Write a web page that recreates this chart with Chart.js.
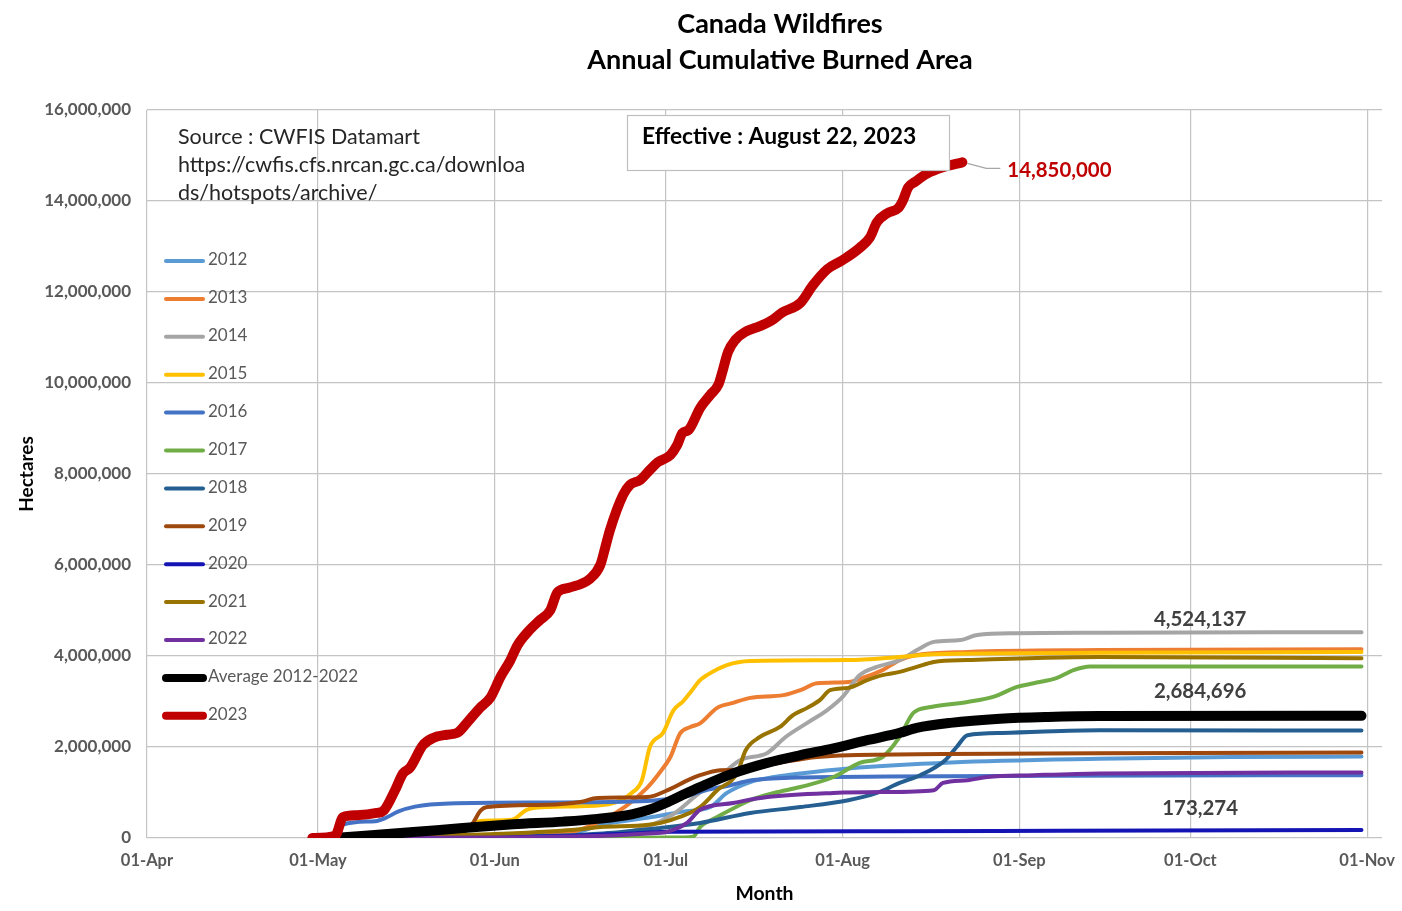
<!DOCTYPE html>
<html>
<head>
<meta charset="utf-8">
<title>Canada Wildfires</title>
<script src="https://cdn.jsdelivr.net/npm/chart.js@4.4.0/dist/chart.umd.min.js"></script>
<style>
  html, body { margin: 0; padding: 0; background: #fff; }
  canvas { display: block; }
</style>
</head>
<body>
<canvas id="fireChart" width="1402" height="911"></canvas>
<script>
// x values are days counted from 01-Apr, y values are millions of hectares
const monthStarts = [0, 30, 61, 91, 122, 153, 183, 214];
const monthLabels = ['01-Apr', '01-May', '01-Jun', '01-Jul', '01-Aug', '01-Sep', '01-Oct', '01-Nov'];

const titleLines = ['Canada Wildfires', 'Annual Cumulative Burned Area'];
const sourceLines = ['Source : CWFIS Datamart', 'https://cwfis.cfs.nrcan.gc.ca/downloa', 'ds/hotspots/archive/'];
const effectiveText = 'Effective : August 22, 2023';

const seriesNames = ['2012', '2013', '2014', '2015', '2016', '2017', '2018', '2019', '2020', '2021', '2022', 'Average 2012-2022', '2023'];
const seriesColors = ['#5b9bd5', '#ed7d31', '#a5a5a5', '#ffc000', '#4472c4', '#70ad47', '#255e91', '#9e480e', '#1414b4', '#997300', '#7030a0', '#000000', '#c00000'];

const days2012 = [30, 45, 60, 75, 80, 88, 94, 98.8, 101.7, 105.8, 110, 114.6, 123, 141, 167, 190, 213];
const ha2012 = [0, 0.01, 0.04, 0.12, 0.3, 0.45, 0.58, 0.68, 0.99, 1.23, 1.34, 1.42, 1.53, 1.66, 1.74, 1.78, 1.79];

const days2013 = [30, 60, 75, 80, 84, 87.7, 90, 91.8, 93.5, 95.3, 97, 100, 102.8, 105.8, 111.6, 114.6, 117.5, 123, 126, 129, 132, 135, 144, 167, 213];
const ha2013 = [0, 0.02, 0.15, 0.4, 0.7, 1.1, 1.45, 1.78, 2.3, 2.44, 2.52, 2.86, 2.97, 3.08, 3.14, 3.25, 3.4, 3.43, 3.54, 3.69, 3.91, 4.02, 4.09, 4.13, 4.15];

const days2014 = [30, 70, 85, 92, 96, 100, 104, 108.8, 112, 115.8, 119.3, 122, 125, 128, 132, 135.6, 138, 142.6, 145.6, 152.6, 167, 213];
const ha2014 = [0, 0.01, 0.15, 0.5, 0.9, 1.3, 1.71, 1.87, 2.22, 2.53, 2.81, 3.1, 3.58, 3.76, 3.91, 4.17, 4.31, 4.35, 4.46, 4.5, 4.51, 4.524137];

const days2015 = [30, 50, 55, 57, 59, 64, 66.6, 70, 76, 81.8, 85, 86.8, 88.2, 90.5, 92.3, 94, 95.3, 97, 98.2, 101.7, 105.8, 123, 132, 138, 167, 213];
const ha2015 = [0, 0.01, 0.1, 0.3, 0.38, 0.4, 0.62, 0.68, 0.7, 0.77, 0.99, 1.27, 2.0, 2.31, 2.8, 3.0, 3.2, 3.47, 3.58, 3.8, 3.89, 3.91, 3.98, 4.04, 4.07, 4.09];

const days2016 = [33, 34.5, 40, 42, 44, 47, 53, 70, 85, 94, 98, 102, 106, 114, 130, 160, 213];
const ha2016 = [0, 0.3, 0.37, 0.45, 0.58, 0.69, 0.76, 0.78, 0.8, 0.9, 1.05, 1.15, 1.27, 1.33, 1.35, 1.37, 1.38];

const days2017 = [30, 80, 92, 95.8, 97, 100, 105.8, 110, 114.6, 120.4, 125, 129, 132, 134.4, 137.5, 143.9, 148.4, 152.6, 155.5, 159.6, 162.5, 165.4, 190, 213];
const ha2017 = [0, 0.005, 0.01, 0.03, 0.24, 0.46, 0.83, 0.99, 1.12, 1.34, 1.65, 1.78, 2.22, 2.75, 2.88, 2.99, 3.1, 3.32, 3.4, 3.52, 3.69, 3.77, 3.77, 3.77];

const days2018 = [30, 60, 80, 90, 97, 105.8, 114.6, 123, 128, 132, 135.6, 140, 142, 143.9, 150, 167, 213];
const ha2018 = [0, 0.02, 0.1, 0.22, 0.33, 0.55, 0.68, 0.83, 0.99, 1.21, 1.38, 1.71, 2.0, 2.26, 2.31, 2.37, 2.36];

const days2019 = [30, 50, 55, 57, 58.5, 59.6, 70, 76, 79, 87.7, 91.8, 94.5, 97, 100.5, 104, 111.6, 117.5, 123, 167, 213];
const ha2019 = [0, 0.03, 0.1, 0.3, 0.6, 0.68, 0.73, 0.79, 0.88, 0.9, 1.08, 1.25, 1.38, 1.49, 1.5, 1.67, 1.78, 1.82, 1.86, 1.88];

const days2020 = [30, 60, 75, 85, 92, 130, 160, 213];
const ha2020 = [0, 0.02, 0.05, 0.1, 0.14, 0.15, 0.16, 0.173274];

const days2021 = [30, 40, 60, 75, 79.5, 88, 92, 97, 100, 103.5, 105, 107.5, 111, 113.3, 115.8, 118, 119.8, 123, 126.3, 129, 132, 135, 138, 143.9, 167, 213];
const ha2021 = [0, 0.02, 0.08, 0.18, 0.24, 0.29, 0.4, 0.68, 1.05, 1.42, 1.93, 2.22, 2.44, 2.7, 2.86, 3.03, 3.25, 3.3, 3.47, 3.58, 3.65, 3.76, 3.87, 3.91, 3.98, 3.95];

const days2022 = [30, 60, 80, 88, 91, 94.7, 97, 102.8, 108.8, 120.4, 129, 138, 139.6, 143.9, 147.4, 155.5, 167, 213];
const ha2022 = [0, 0.01, 0.05, 0.1, 0.13, 0.33, 0.62, 0.77, 0.9, 0.99, 1.01, 1.05, 1.21, 1.27, 1.34, 1.38, 1.42, 1.44];

const daysAvg = [34, 46.7, 55.4, 64.2, 73, 79, 85, 88, 91, 94, 97, 102.8, 108.8, 114.6, 120.4, 126.3, 132, 135, 140.9, 149.6, 158, 167, 213];
const haAvg = [0.01, 0.13, 0.22, 0.3, 0.36, 0.42, 0.52, 0.62, 0.77, 0.95, 1.12, 1.42, 1.65, 1.82, 1.97, 2.15, 2.31, 2.42, 2.53, 2.62, 2.66, 2.68, 2.684696];

const days2023 = [29, 33, 34.4, 36.8, 40.3, 41.5, 43.5, 44.9, 46.1, 48.4, 50.2, 52.6, 54.4, 56.1, 58.4, 60.2, 62, 63.7, 65, 66.8,
  69, 70.7, 72, 74, 77.7, 79.5, 80.4, 81.2, 83.5, 84.7, 86.5, 88.2, 89.6, 91.8, 93, 93.9, 95, 97, 98.8, 100.2,
  100.9, 101.9, 103.2, 104.9, 107.5, 109.6, 111.4, 114.6, 116.8, 119.3, 122, 125, 126.8, 128, 129.8, 131.8, 132.6, 133.5, 134.7, 136.8,
  139.6, 143];
const ha2023 = [0, 0.05, 0.46, 0.5, 0.55, 0.6, 1.05, 1.42, 1.54, 2.04, 2.2, 2.27, 2.31, 2.53, 2.86, 3.08, 3.54, 3.9, 4.24, 4.53,
  4.8, 5.0, 5.4, 5.5, 5.7, 6.0, 6.4, 6.77, 7.54, 7.76, 7.87, 8.09, 8.26, 8.42, 8.64, 8.9, 8.97, 9.45, 9.74, 9.96,
  10.24, 10.68, 10.95, 11.12, 11.25, 11.38, 11.55, 11.76, 12.15, 12.5, 12.7, 12.97, 13.2, 13.53, 13.73, 13.85, 14.02, 14.3, 14.42, 14.6,
  14.74, 14.85];

const seriesDays = [days2012, days2013, days2014, days2015, days2016, days2017, days2018, days2019, days2020, days2021, days2022, daysAvg, days2023];
const seriesHa = [ha2012, ha2013, ha2014, ha2015, ha2016, ha2017, ha2018, ha2019, ha2020, ha2021, ha2022, haAvg, ha2023];

const MILLION = 1e6;
const fmt = v => Math.round(v).toLocaleString('en-US');
const lastOf = arr => arr[arr.length - 1];

const datasets = seriesNames.map((name, i) => ({
    label: name,
    data: seriesDays[i].map((d, k) => ({ x: d, y: seriesHa[i][k] * MILLION })),
    borderColor: seriesColors[i],
    backgroundColor: seriesColors[i],
    borderWidth: i >= 11 ? 10 : 4,
    pointRadius: 0,
    cubicInterpolationMode: 'monotone',
    borderCapStyle: 'round',
    borderJoinStyle: 'round',
    fill: false,
    order: seriesNames.length - 1 - i
}));

// texte, légende et étiquettes dessinés par-dessus
const overlay = {
    id: 'overlay',
    afterDraw(chart) {
        const { ctx, scales: { x, y } } = chart;
        ctx.save();

        // titre
        ctx.fillStyle = '#000';
        ctx.font = 'bold 27px Lato';
        ctx.textAlign = 'center';
        ctx.textBaseline = 'middle';
        ctx.fillText(titleLines[0], 780, 24);
        ctx.fillText(titleLines[1], 780, 60);

        // source
        ctx.fillStyle = '#262626';
        ctx.font = '21.5px Lato';
        ctx.textAlign = 'left';
        sourceLines.forEach((t, i) => ctx.fillText(t, 178, 137 + i * 28));

        // cadre "Effective"
        ctx.fillStyle = '#fff';
        ctx.fillRect(627, 115, 323, 56);
        ctx.strokeStyle = '#bfbfbf';
        ctx.lineWidth = 1.2;
        ctx.strokeRect(627.5, 115.5, 322, 55);
        ctx.fillStyle = '#000';
        ctx.font = 'bold 22.8px Lato';
        ctx.fillText(effectiveText, 642, 137);

        // légende
        chart.data.datasets.forEach((ds, i) => {
            const ly = 260 + i * 37.9;
            ctx.strokeStyle = ds.borderColor;
            ctx.lineWidth = i >= 11 ? 8 : 4;
            ctx.lineCap = 'round';
            ctx.beginPath();
            ctx.moveTo(166, ly + 1);
            ctx.lineTo(203, ly + 1);
            ctx.stroke();
            ctx.fillStyle = '#595959';
            ctx.font = '17px Lato';
            ctx.fillText(ds.label, 208, ly);
        });

        // étiquette 2023 avec trait de rappel
        const ex = x.getPixelForValue(lastOf(days2023));
        const ey = y.getPixelForValue(lastOf(ha2023) * MILLION);
        ctx.strokeStyle = '#a6a6a6';
        ctx.lineWidth = 1.2;
        ctx.lineCap = 'butt';
        ctx.beginPath();
        ctx.moveTo(ex + 5, ey + 1);
        ctx.lineTo(ex + 24, ey + 6);
        ctx.lineTo(ex + 38, ey + 6);
        ctx.stroke();
        ctx.fillStyle = '#c00000';
        ctx.font = 'bold 20.4px Lato';
        ctx.fillText(fmt(lastOf(ha2023) * MILLION), ex + 45, ey + 8);

        // valeurs finales
        ctx.fillStyle = '#404040';
        ctx.font = 'bold 20.4px Lato';
        ctx.textAlign = 'center';
        const lx = x.getPixelForValue(184.7);
        [[ha2014, 13], [haAvg, 24], [ha2020, 22]].forEach(([arr, off]) => {
            const v = lastOf(arr) * MILLION;
            ctx.fillText(fmt(v), lx, y.getPixelForValue(v) - off);
        });

        ctx.restore();
    }
};

new Chart(document.getElementById('fireChart'), {
    type: 'line',
    data: { datasets },
    options: {
        responsive: false,
        animation: false,
        events: [],
        layout: { padding: { left: 0, right: 20, top: 110, bottom: 0 } },
        plugins: { legend: { display: false }, tooltip: { enabled: false }, title: { display: false } },
        scales: {
            x: {
                type: 'linear',
                min: 0,
                max: 216.6,
                afterBuildTicks: s => { s.ticks = monthStarts.map(v => ({ value: v })); },
                afterFit: s => { s.height = 73; s.paddingLeft = 0; s.paddingRight = 0; },
                ticks: {
                    autoSkip: false,
                    maxRotation: 0,
                    padding: 13,
                    color: '#595959',
                    font: { family: 'Lato', weight: 'bold', size: 16.5 },
                    callback: (v, i) => monthLabels[i]
                },
                grid: { color: '#c4c4c4', lineWidth: 1.2, drawTicks: false },
                border: { display: false },
                title: { display: true, text: 'Month', color: '#000', font: { family: 'Lato', weight: 'bold', size: 19.4 }, padding: { top: 0, bottom: 6 } }
            },
            y: {
                min: 0,
                max: 16 * MILLION,
                afterFit: s => { s.width = 147; },
                ticks: {
                    stepSize: 2 * MILLION,
                    padding: 16,
                    color: '#595959',
                    font: { family: 'Lato', weight: 'bold', size: 17 },
                    callback: v => fmt(v)
                },
                grid: { color: '#c4c4c4', lineWidth: 1.2, drawTicks: false },
                border: { display: false },
                title: { display: true, text: 'Hectares', color: '#000', font: { family: 'Lato', weight: 'bold', size: 19 }, padding: { top: 15, bottom: 0 } }
            }
        }
    },
    plugins: [overlay]
});
</script>
</body>
</html>
